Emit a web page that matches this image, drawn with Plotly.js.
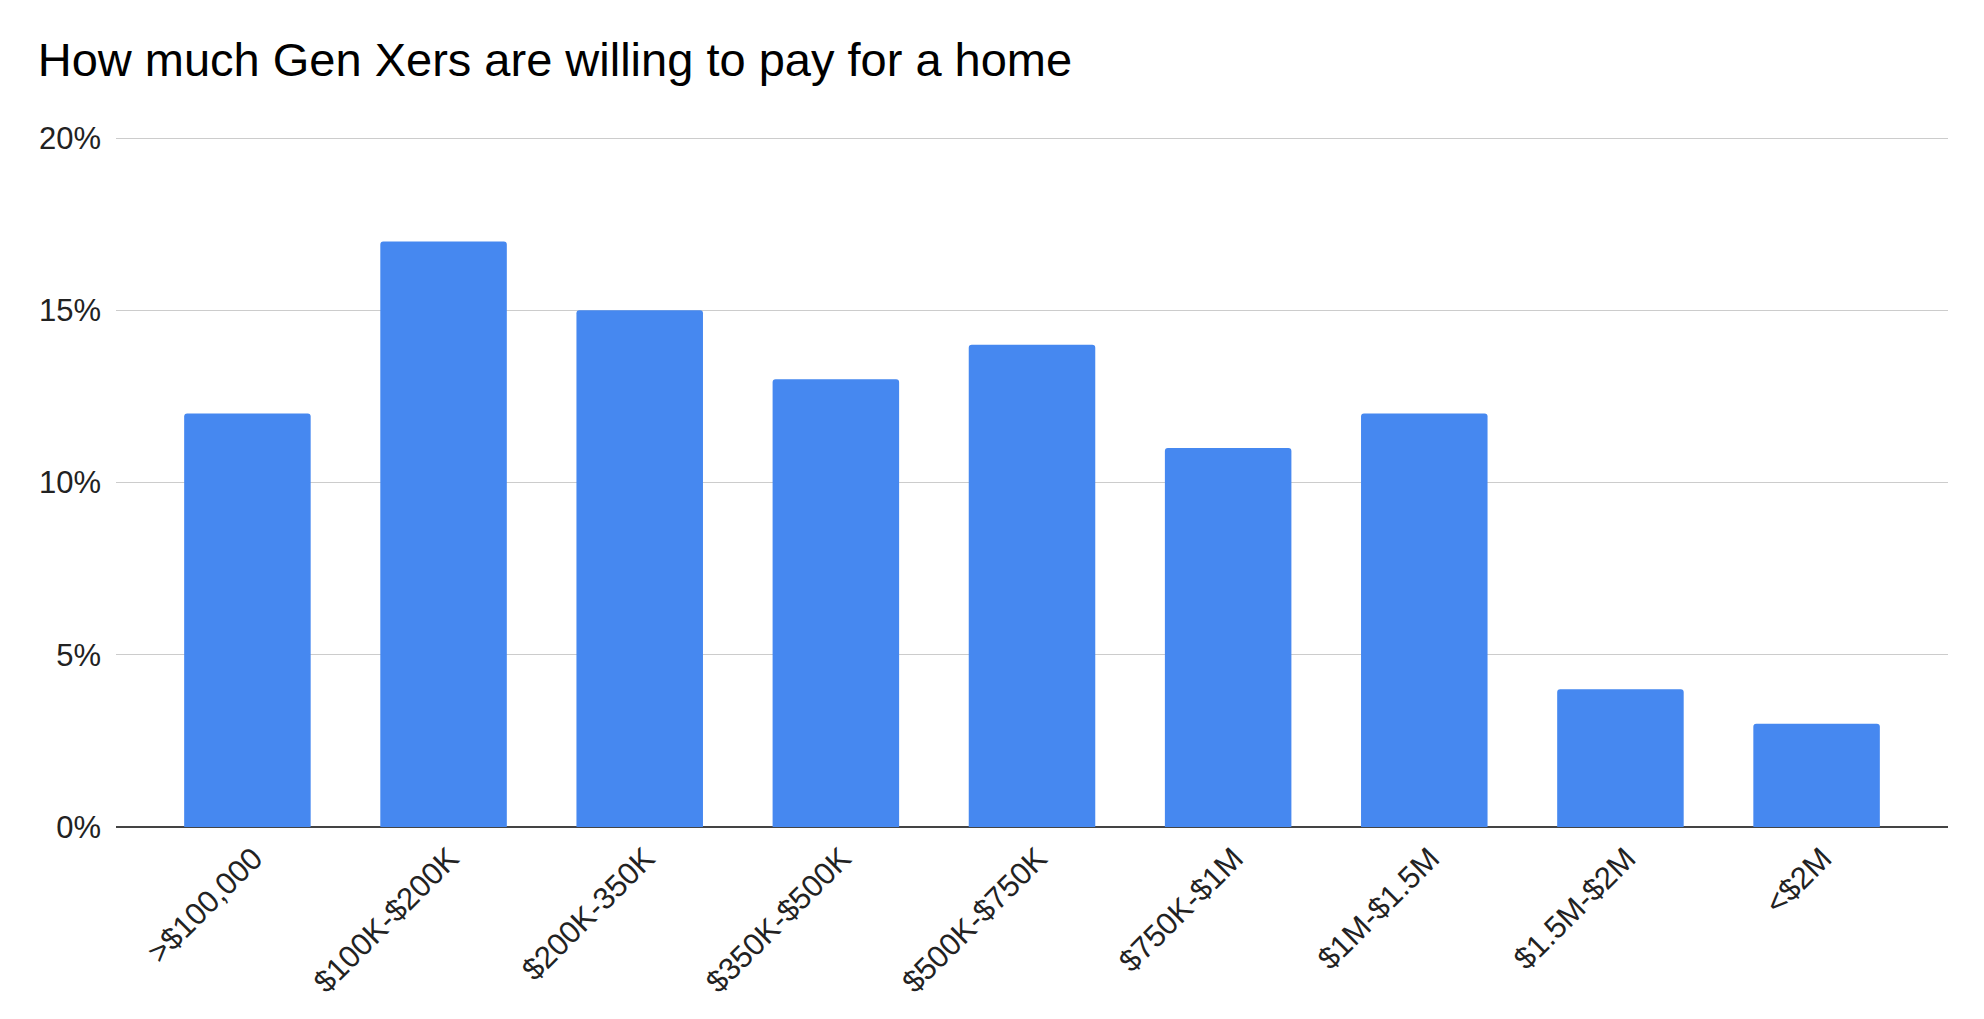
<!DOCTYPE html>
<html>
<head>
<meta charset="utf-8">
<script src="https://cdn.plot.ly/plotly-3.0.1.min.js"></script>
<style>
  html, body { margin: 0; padding: 0; background: #fff; }
  #chart { width: 1984px; height: 1019px; }
</style>
</head>
<body>
<div id="chart"></div>
<script>
// price brackets and share of Gen X respondents (percent)
var brackets = ['>$100,000', '$100K-$200K', '$200K-350K', '$350K-$500K',
  '$500K-$750K', '$750K-$1M', '$1M-$1.5M', '$1.5M-$2M', '<$2M'];
var shares = [12, 17, 15, 13, 14, 11, 12, 4, 3];
var yTicks = [0, 5, 10, 15, 20];

var bars = {
  x: brackets,
  y: shares,
  type: 'bar',
  marker: { color: '#4688f0', cornerradius: 3 },
  hoverinfo: 'x+y'
};

var layout = {
  width: 1984,
  height: 1019,
  font: { family: 'Liberation Sans, Arial, sans-serif', color: '#222' },
  title: {
    text: 'How much Gen Xers are willing to pay for a home',
    font: { size: 47, color: '#000' },
    xref: 'container',
    x: 0.019,
    xanchor: 'left',
    yref: 'container',
    y: 0.942,
    yanchor: 'middle'
  },
  margin: { l: 116, r: 36, t: 137, b: 192 },
  bargap: 0.355,
  xaxis: {
    type: 'category',
    range: [-0.67, 8.67],
    tickangle: -45,
    tickfont: { size: 31, color: '#222' },
    ticklabelstandoff: 6,
    ticklabelshift: 6,
    showgrid: false,
    ticks: ''
  },
  yaxis: {
    range: [0, 20.03],
    tickvals: yTicks,
    ticktext: yTicks.map(function (v) { return v + '%'; }),
    tickfont: { size: 31, color: '#222' },
    gridcolor: '#cccccc',
    gridwidth: 1,
    zeroline: true,
    zerolinecolor: '#444',
    zerolinewidth: 2,
    ticklabelstandoff: 14,
    fixedrange: true
  },
  plot_bgcolor: '#fff',
  paper_bgcolor: '#fff',
  showlegend: false
};

Plotly.newPlot('chart', [bars], layout, { displayModeBar: false, staticPlot: true });
</script>
</body>
</html>
